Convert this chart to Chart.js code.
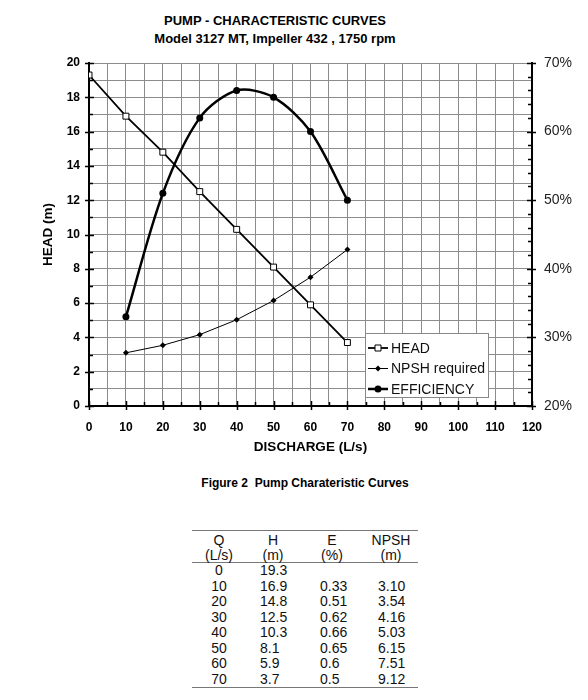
<!DOCTYPE html>
<html><head><meta charset="utf-8">
<script src="https://cdn.jsdelivr.net/npm/chart.js@4/dist/chart.umd.min.js"></script>
<style>
html,body{margin:0;padding:0;background:#fff;}
body{width:588px;height:700px;position:relative;overflow:hidden;font-family:"Liberation Sans",Arial,Helvetica,sans-serif;color:#111;}
#wrap{position:absolute;left:0;top:0;width:588px;height:470px;}
.title{position:absolute;left:0;width:550px;text-align:center;font-weight:bold;font-size:13px;line-height:16px;color:#000;}
#caption{position:absolute;left:105px;width:400px;top:475px;text-align:center;font-weight:bold;font-size:12px;line-height:16px;color:#000;}
#tbl{position:absolute;left:192px;top:530px;width:226px;border-collapse:collapse;font-size:14px;color:#111;}
#tbl th{font-weight:normal;line-height:14.5px;padding:0;text-align:center;vertical-align:top;}
#tbl thead tr:first-child th{padding-top:2px;}
#tbl thead{border-top:1.5px solid #777;}
#tbl thead tr:last-child th{border-bottom:1.5px solid #777;}
#tbl tbody tr:last-child td{border-bottom:1.5px solid #777;}
#tbl td{line-height:15.5px;padding:0;}
</style></head>
<body>
<div class="title" style="top:13px">PUMP - CHARACTERISTIC CURVES</div>
<div class="title" style="top:31px">Model 3127 MT, Impeller 432 , 1750 rpm</div>
<div id="wrap"><canvas id="c" width="588" height="470"></canvas></div>
<div id="caption">Figure 2&nbsp; Pump Charateristic Curves</div>
<table id="tbl">
<colgroup><col style="width:54px"><col style="width:54px"><col style="width:64px"><col style="width:54px"></colgroup>
<thead>
<tr><th>Q</th><th>H</th><th>E</th><th>NPSH</th></tr>
<tr><th>(L/s)</th><th>(m)</th><th>(%)</th><th>(m)</th></tr>
</thead>
<tbody id="tb"></tbody>
</table>
<script>
// ---- data ----
const discharge = [0, 10, 20, 30, 40, 50, 60, 70];
const head = [19.3, 16.9, 14.8, 12.5, 10.3, 8.1, 5.9, 3.7];
const efficiency = [null, 0.33, 0.51, 0.62, 0.66, 0.65, 0.6, 0.5];
const npsh = [null, 3.10, 3.54, 4.16, 5.03, 6.15, 7.51, 9.12];
const seriesLabels = ['HEAD', 'NPSH required', 'EFFICIENCY'];
const xAxisTitle = 'DISCHARGE (L/s)';
const yAxisTitle = 'HEAD (m)';

// ---- table ----
const tb = document.getElementById('tb');
discharge.forEach((q, i) => {
  const tr = document.createElement('tr');
  const cells = [
    [String(q), 'text-align:center'],
    [head[i] === null ? '' : head[i].toFixed(1), 'padding-left:14px'],
    [efficiency[i] === null ? '' : String(efficiency[i]), 'padding-left:20px'],
    [npsh[i] === null ? '' : npsh[i].toFixed(2), 'padding-left:14px']
  ];
  cells.forEach(([t, s]) => {
    const td = document.createElement('td');
    td.textContent = t; td.style.cssText = s; tr.appendChild(td);
  });
  tb.appendChild(tr);
});

const pts = ys => discharge.map((x, i) => ({x, y: ys[i]})).filter(p => p.y !== null);

const FONT = '"Liberation Sans", Arial, Helvetica, sans-serif';

const tickPlugin = {
  id: 'axisTicks',
  afterDraw(chart) {
    const ctx = chart.ctx, {left, right, bottom} = chart.chartArea;
    const sx = chart.scales.x, sy = chart.scales.y, s2 = chart.scales.y2;
    ctx.save();
    ctx.strokeStyle = '#000'; ctx.lineWidth = 1.5;
    ctx.beginPath();
    for (let v = 0; v <= 20; v++) {
      const y = Math.round(sy.getPixelForValue(v)) + 0.5;
      if (v % 2 === 0) { ctx.moveTo(left - 4, y); ctx.lineTo(left + 5, y); }
      else { ctx.moveTo(left, y); ctx.lineTo(left + 4, y); }
    }
    for (let v = 0; v <= 120; v += 5) {
      const x = Math.round(sx.getPixelForValue(v)) + 0.5;
      if (v % 10 === 0) { ctx.moveTo(x, bottom + 4); ctx.lineTo(x, bottom - 5); }
      else { ctx.moveTo(x, bottom); ctx.lineTo(x, bottom - 4); }
    }
    for (let p = 20; p <= 70; p += 2) {
      const y = Math.round(s2.getPixelForValue(p / 100)) + 0.5;
      if (p % 10 === 0) { ctx.moveTo(right + 4, y); ctx.lineTo(right - 5, y); }
      else { ctx.moveTo(right, y); ctx.lineTo(right - 4, y); }
    }
    ctx.stroke();
    ctx.restore();
  }
};

function marker(ctx, style, x, y) {
  ctx.beginPath();
  if (style === 'rect') {
    ctx.rect(x - 3, y - 3, 6, 6);
    ctx.fillStyle = '#fff'; ctx.fill(); ctx.lineWidth = 1; ctx.strokeStyle = '#000'; ctx.stroke();
  } else if (style === 'rectRot') {
    ctx.moveTo(x, y - 3); ctx.lineTo(x + 3, y); ctx.lineTo(x, y + 3); ctx.lineTo(x - 3, y); ctx.closePath();
    ctx.fillStyle = '#000'; ctx.fill();
  } else {
    ctx.arc(x, y, 3.5, 0, Math.PI * 2);
    ctx.fillStyle = '#000'; ctx.fill();
  }
}

const legendPlugin = {
  id: 'boxLegend',
  afterDatasetsDraw(chart) {
    const ctx = chart.ctx, {right, bottom} = chart.chartArea;
    const bx = right - 167, by = bottom - 73, bw = 123, bh = 64;
    ctx.save();
    ctx.fillStyle = '#fff';
    ctx.fillRect(bx, by, bw, bh);
    ctx.strokeStyle = '#888'; ctx.lineWidth = 1;
    ctx.strokeRect(bx + 0.5, by + 0.5, bw, bh);
    chart.data.datasets.forEach((ds, i) => {
      const y = by + 15 + i * 20.5;
      ctx.beginPath();
      ctx.moveTo(bx + 3, y); ctx.lineTo(bx + 23, y);
      ctx.strokeStyle = '#000'; ctx.lineWidth = ds.borderWidth; ctx.stroke();
      marker(ctx, ds.pointStyle, bx + 13, y);
      ctx.fillStyle = '#111';
      ctx.font = '14px ' + FONT;
      ctx.textBaseline = 'middle'; ctx.textAlign = 'left';
      ctx.fillText(ds.label, bx + 26, y + 1);
    });
    ctx.restore();
  }
};

new Chart(document.getElementById('c'), {
  type: 'line',
  data: {
    datasets: [
      {label: seriesLabels[0], data: pts(head), yAxisID: 'y', borderColor: '#000', borderWidth: 1.8,
       pointStyle: 'rect', pointRadius: 4.2, pointBackgroundColor: '#fff', pointBorderColor: '#000', pointBorderWidth: 1, tension: 0},
      {label: seriesLabels[1], data: pts(npsh), yAxisID: 'y', borderColor: '#000', borderWidth: 1,
       pointStyle: 'rectRot', pointRadius: 3, pointBackgroundColor: '#000', pointBorderColor: '#000', pointBorderWidth: 0, tension: 0},
      {label: seriesLabels[2], data: pts(efficiency), yAxisID: 'y2', borderColor: '#000', borderWidth: 2.5,
       pointStyle: 'circle', pointRadius: 3.5, pointBackgroundColor: '#000', pointBorderColor: '#000', pointBorderWidth: 0, tension: 0.3}
    ]
  },
  options: {
    responsive: false, animation: false, devicePixelRatio: 1,
    layout: {padding: {top: 63, left: 0, right: 0, bottom: 0}},
    plugins: {legend: {display: false}, tooltip: {enabled: false}},
    scales: {
      x: {
        type: 'linear', position: 'bottom', min: 0, max: 120,
        ticks: {stepSize: 5, autoSkip: false, maxRotation: 0, padding: 14, color: '#000',
                font: {family: FONT, size: 12, weight: 'bold'},
                callback: v => (v % 10 === 0 ? String(v) : '')},
        grid: {color: '#8c8c8c', lineWidth: 1, drawTicks: false},
        border: {color: '#000', width: 2},
        title: {display: true, text: xAxisTitle, color: '#000', font: {family: FONT, size: 13.5, weight: 'bold'},
                padding: {top: 0, bottom: 15}},
        afterFit(s) { s.height = 64; }
      },
      y: {
        type: 'linear', position: 'left', min: 0, max: 20,
        ticks: {stepSize: 1, autoSkip: false, padding: 9, color: '#000',
                font: {family: FONT, size: 12, weight: 'bold'},
                callback: v => (v % 2 === 0 ? String(v) : '')},
        grid: {color: '#8c8c8c', lineWidth: 1, drawTicks: false},
        border: {color: '#000', width: 2},
        title: {display: true, text: yAxisTitle, color: '#000', font: {family: FONT, size: 13.5, weight: 'bold'},
                padding: {top: 40, bottom: 0}},
        afterFit(s) { s.width = 89; }
      },
      y2: {
        type: 'linear', position: 'right', min: 0.2, max: 0.7,
        ticks: {stepSize: 0.02, autoSkip: false, padding: 12, color: '#222',
                font: {family: FONT, size: 14},
                callback: v => { const p = Math.round(v * 100); return p % 10 === 0 ? p + '%' : ''; }},
        grid: {drawOnChartArea: false, drawTicks: false},
        border: {color: '#000', width: 2},
        afterFit(s) { s.width = 56; }
      }
    }
  },
  plugins: [legendPlugin, tickPlugin]
});
</script>
</body></html>
